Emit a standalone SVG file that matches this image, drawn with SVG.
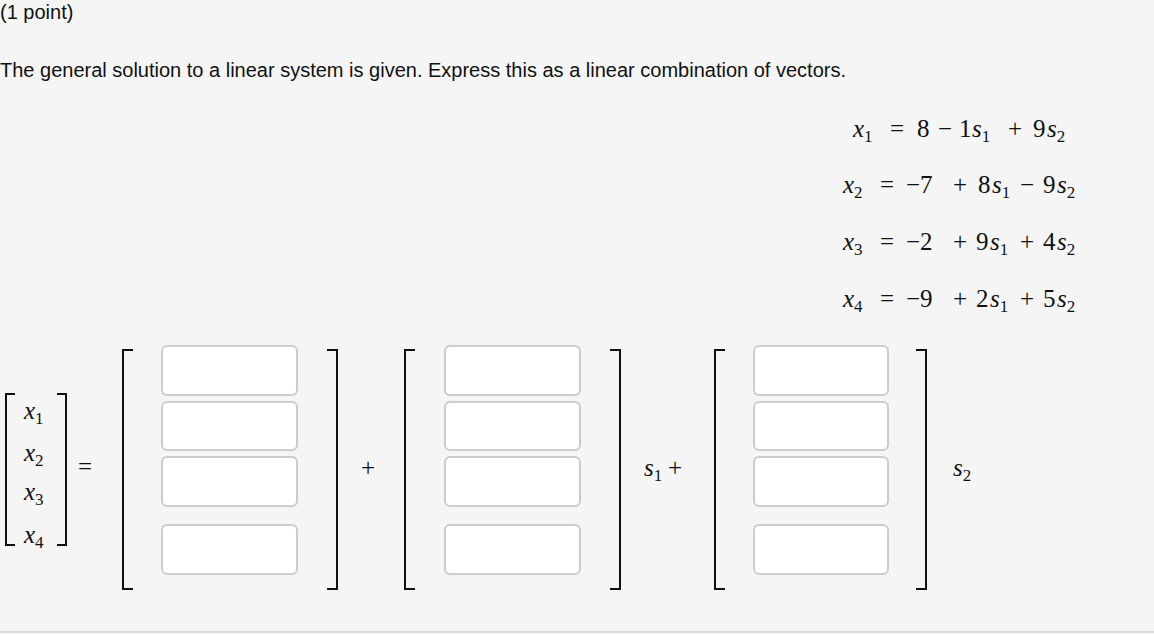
<svg xmlns="http://www.w3.org/2000/svg" width="1154" height="634" viewBox="0 0 1154 634">
<style>
.t{font-family:"Liberation Sans",Arial,sans-serif;font-size:20px;fill:#111}
.m{font-family:"Liberation Serif","Times New Roman",serif;font-size:25px;fill:#111}
.i{font-style:italic}
.sub{font-size:17px}
.box{fill:#fff;stroke:#ccc;stroke-width:2}
.br{fill:none;stroke:#111;stroke-width:2}
</style>
<rect width="1154" height="634" fill="#f5f5f5"/>
<line x1="0" y1="632" x2="1154" y2="632" stroke="#ddd" stroke-width="2"/>
<text class="t" x="0" y="19">(1 point)</text>
<text class="t" x="0" y="77">The general solution to a linear system is given. Express this as a linear combination of vectors.</text>
<g id="equations" class="m">
<text y="137"><tspan class="i" x="853">x</tspan><tspan class="sub" dy="5">1</tspan><tspan dy="-5" x="890">=</tspan><tspan x="917">8</tspan><tspan x="938">−</tspan><tspan x="959">1</tspan><tspan class="i" x="972">s</tspan><tspan class="sub" dy="5">1</tspan><tspan dy="-5" x="1008">+</tspan><tspan x="1033">9</tspan><tspan class="i" x="1047">s</tspan><tspan class="sub" dy="5">2</tspan></text>
<text y="193"><tspan class="i" x="843">x</tspan><tspan class="sub" dy="5">2</tspan><tspan dy="-5" x="880">=</tspan><tspan x="906">−7</tspan><tspan x="953">+</tspan><tspan x="978">8</tspan><tspan class="i" x="992">s</tspan><tspan class="sub" dy="5">1</tspan><tspan dy="-5" x="1020">−</tspan><tspan x="1043">9</tspan><tspan class="i" x="1057">s</tspan><tspan class="sub" dy="5">2</tspan></text>
<text y="250"><tspan class="i" x="843">x</tspan><tspan class="sub" dy="5">3</tspan><tspan dy="-5" x="880">=</tspan><tspan x="906">−2</tspan><tspan x="953">+</tspan><tspan x="976">9</tspan><tspan class="i" x="990">s</tspan><tspan class="sub" dy="5">1</tspan><tspan dy="-5" x="1020">+</tspan><tspan x="1043">4</tspan><tspan class="i" x="1057">s</tspan><tspan class="sub" dy="5">2</tspan></text>
<text y="307"><tspan class="i" x="843">x</tspan><tspan class="sub" dy="5">4</tspan><tspan dy="-5" x="880">=</tspan><tspan x="906">−9</tspan><tspan x="953">+</tspan><tspan x="976">2</tspan><tspan class="i" x="990">s</tspan><tspan class="sub" dy="5">1</tspan><tspan dy="-5" x="1020">+</tspan><tspan x="1043">5</tspan><tspan class="i" x="1057">s</tspan><tspan class="sub" dy="5">2</tspan></text>
</g>
<g id="lhs" class="m">
<path class="br" d="M15,394 H6 V545 H15 M57,394 H66 V545 H57"/>
<text x="24" y="419"><tspan class="i">x</tspan><tspan class="sub" dy="5">1</tspan></text>
<text x="24" y="461"><tspan class="i">x</tspan><tspan class="sub" dy="5">2</tspan></text>
<text x="24" y="500"><tspan class="i">x</tspan><tspan class="sub" dy="5">3</tspan></text>
<text x="24" y="543"><tspan class="i">x</tspan><tspan class="sub" dy="5">4</tspan></text>
<text x="78" y="475">=</text>
</g>
<g id="vec0">
<path class="br" d="M133,350 H123 V589 H133 M327,350 H337 V589 H327"/>
<rect class="box" x="162" y="346" width="135" height="49" rx="5"/>
<rect class="box" x="162" y="402" width="135" height="48" rx="5"/>
<rect class="box" x="162" y="457" width="135" height="49" rx="5"/>
<rect class="box" x="162" y="525" width="135" height="49" rx="5"/>
</g>
<text class="m" x="361" y="476">+</text>
<g id="vec1">
<path class="br" d="M415,350 H405 V589 H415 M610,350 H620 V589 H610"/>
<rect class="box" x="445" y="346" width="135" height="49" rx="5"/>
<rect class="box" x="445" y="402" width="135" height="48" rx="5"/>
<rect class="box" x="445" y="457" width="135" height="49" rx="5"/>
<rect class="box" x="445" y="525" width="135" height="49" rx="5"/>
</g>
<text class="m" y="476"><tspan class="i" x="644">s</tspan><tspan class="sub" dy="5">1</tspan><tspan dy="-5" x="668">+</tspan></text>
<g id="vec2">
<path class="br" d="M725,350 H715 V589 H725 M916,350 H926 V589 H916"/>
<rect class="box" x="754" y="346" width="134" height="49" rx="5"/>
<rect class="box" x="754" y="402" width="134" height="48" rx="5"/>
<rect class="box" x="754" y="457" width="134" height="49" rx="5"/>
<rect class="box" x="754" y="525" width="134" height="49" rx="5"/>
</g>
<text class="m" y="476"><tspan class="i" x="953">s</tspan><tspan class="sub" dy="5">2</tspan></text>
</svg>
